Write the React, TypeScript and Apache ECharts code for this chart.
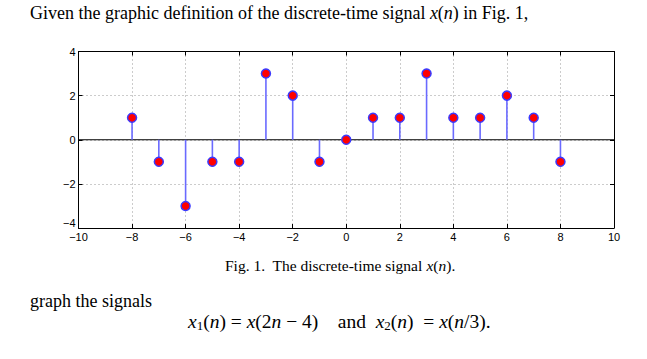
import React, { useEffect, useRef } from "react";
import * as echarts from "echarts";

const nValues: number[] = [-8, -7, -6, -5, -4, -3, -2, -1, 0, 1, 2, 3, 4, 5, 6, 7, 8];
const xValues: number[] = [1, -1, -3, -1, -1, 3, 2, -1, 0, 1, 1, 3, 1, 1, 2, 1, -1];
const xAxisRange = { min: -10, max: 10, interval: 2 };
const yAxisRange = { min: -4, max: 4, interval: 2 };

const titleText = "Given the graphic definition of the discrete-time signal ";
const captionText = "Fig. 1.  The discrete-time signal ";
const leadText = "graph the signals";

const fmt = (v: number) => (v < 0 ? "\u2212" + Math.abs(v) : String(v));

export default function App() {
  const ref = useRef<HTMLDivElement>(null);
  useEffect(() => {
    document.body.style.margin = "0";
    const chart = echarts.init(ref.current!, undefined, { renderer: "svg" });
    const points = nValues.map((n, i) => [n, xValues[i]]);
    const serif = "'Liberation Serif', 'DejaVu Serif', serif";
    const sans = "'Liberation Sans', Arial, sans-serif";
    const axisCommon = {
      type: "value" as const,
      min: xAxisRange.min,
      max: xAxisRange.max,
      interval: xAxisRange.interval,
      axisLine: { show: true, onZero: false, lineStyle: { color: "#000", width: 1 } },
      axisTick: { show: true, inside: true, length: 4, lineStyle: { color: "#000" } },
    };
    const yCommon = {
      type: "value" as const,
      min: yAxisRange.min,
      max: yAxisRange.max,
      interval: yAxisRange.interval,
      axisLine: { show: true, onZero: false, lineStyle: { color: "#000", width: 1 } },
      axisTick: { show: true, inside: true, length: 4, lineStyle: { color: "#000" } },
    };
    const ink = "#222";
    const rich = {
      r: { fontFamily: serif, fontSize: 18, color: ink },
      i: { fontFamily: serif, fontSize: 18, fontStyle: "italic" as const, color: ink },
      rf: { fontFamily: serif, fontSize: 19.5, color: ink },
      iff: { fontFamily: serif, fontSize: 19.5, fontStyle: "italic" as const, color: ink },
      s: { fontFamily: serif, fontSize: 13, color: ink, padding: [9, 0, 0, 0] },
      rc: { fontFamily: serif, fontSize: 15.5, color: ink },
      ic: { fontFamily: serif, fontSize: 15.5, fontStyle: "italic" as const, color: ink },
    };
    chart.setOption({
      animation: false,
      backgroundColor: "#fff",
      grid: { left: 78.5, right: 33, top: 51.5, bottom: 131, containLabel: false },
      xAxis: [
        {
          ...axisCommon,
          position: "bottom",
          axisLabel: { show: true, formatter: fmt, fontFamily: sans, fontSize: 11, color: "#000", margin: 3 },
          splitLine: { show: true, lineStyle: { color: "#999", type: [1, 3], width: 1 } },
        },
        {
          ...axisCommon,
          position: "top",
          axisLabel: { show: false },
          splitLine: { show: false },
        },
      ],
      yAxis: [
        {
          ...yCommon,
          position: "left",
          axisLabel: {
            show: true,
            formatter: fmt,
            fontFamily: sans,
            fontSize: 11,
            color: "#000",
            margin: 3,
            verticalAlignMinLabel: "bottom",
          },
          splitLine: { show: true, lineStyle: { color: "#999", type: [1, 3], width: 1 } },
        },
        {
          ...yCommon,
          position: "right",
          axisLabel: { show: false },
          splitLine: { show: false },
        },
      ],
      series: [
        {
          type: "line",
          data: [[xAxisRange.min, 0], [xAxisRange.max, 0]],
          symbol: "none",
          lineStyle: { color: "#000", width: 1 },
          silent: true,
          z: 2,
        },
        {
          type: "custom",
          data: points,
          z: 3,
          renderItem: (_params: any, api: any) => {
            const top = api.coord([api.value(0), api.value(1)]);
            const base = api.coord([api.value(0), 0]);
            return {
              type: "line",
              shape: { x1: top[0], y1: base[1], x2: top[0], y2: top[1] },
              style: { stroke: "#6a6aff", lineWidth: 1.6 },
            };
          },
        },
        {
          type: "scatter",
          data: points,
          symbol: "circle",
          symbolSize: 9,
          z: 4,
          itemStyle: { color: "#ff0000", borderColor: "#3a3aff", borderWidth: 1.5, opacity: 1 },
        },
      ],
      graphic: [
        {
          type: "text",
          left: 30,
          top: 4,
          style: {
            text: `{r|${titleText}}{i|x}{r|(}{i|n}{r|) in Fig. 1,}`,
            rich,
          },
        },
        {
          type: "text",
          left: 225,
          top: 257,
          style: {
            text: `{rc|${captionText}}{ic|x}{rc|(}{ic|n}{rc|).}`,
            rich,
          },
        },
        {
          type: "text",
          left: 30,
          top: 292,
          style: { text: `{r|${leadText}}`, rich },
        },
        {
          type: "text",
          left: 188,
          top: 311,
          style: {
            text:
              "{iff|x}{s|1}{rf|(}{iff|n}{rf|) = }{iff|x}{rf|(2}{iff|n}{rf| \u2212 4)    and  }{iff|x}{s|2}{rf|(}{iff|n}{rf|)  = }{iff|x}{rf|(}{iff|n}{rf|/3).}",
            rich,
          },
        },
      ],
    });
    return () => chart.dispose();
  }, []);
  return <div ref={ref} style={{ width: 647, height: 359 }} />;
}
